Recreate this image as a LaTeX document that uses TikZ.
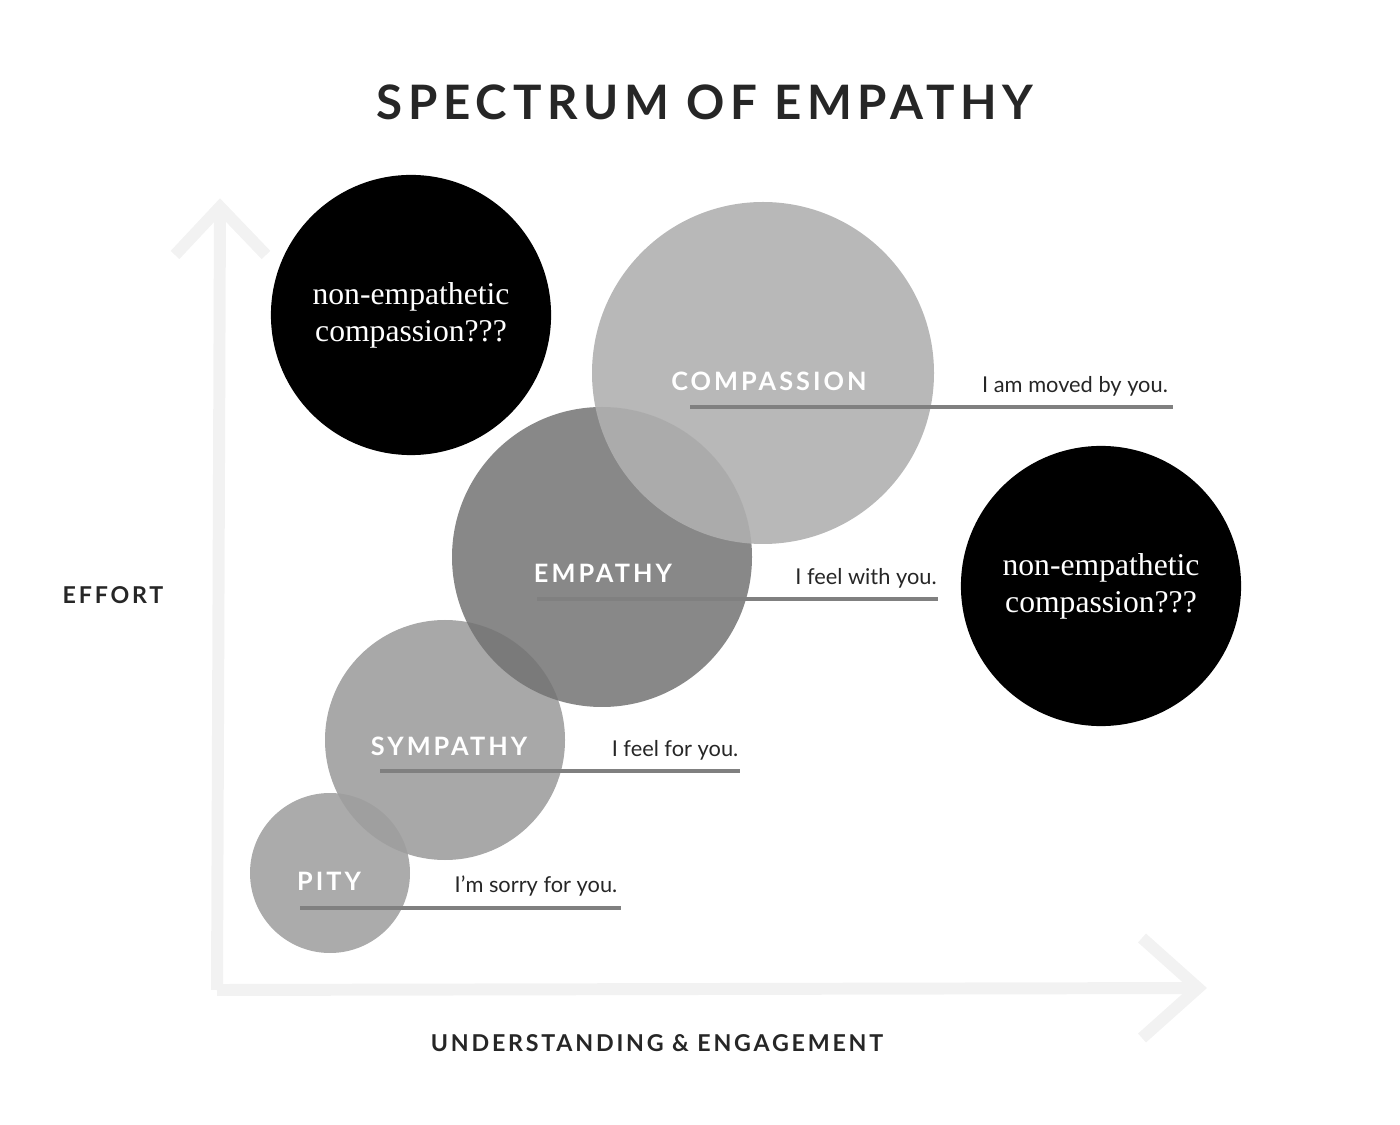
\documentclass[tikz,border=0pt]{standalone}
\usepackage{fontspec}
\setsansfont{Lato}
\setmainfont{Liberation Serif}
\newfontfamily\capsfont{Lato}[LetterSpace=12]
\usetikzlibrary{positioning}
\definecolor{axisgray}{HTML}{F2F2F2}
\definecolor{rulegray}{HTML}{808080}
\tikzset{
  bubble/.style={circle,inner sep=0pt},
  caps/.style={font=\capsfont\bfseries\fontsize{7.2}{8}\selectfont,text=white},
  phrase/.style={font=\sffamily\fontsize{6.2}{7}\selectfont,text=black!85},
  rule/.style={draw=rulegray,line width=1.2pt},
  axis/.style={draw=axisgray,line width=3.4pt},
  blackball/.style={fill=black,circle,minimum size=2.8cm,align=center,text=white,
    font=\rmfamily\fontsize{9}{10.5}\selectfont}
}
\begin{document}
\begin{tikzpicture}[x=0.01cm,y=-0.01cm]
  \useasboundingbox (0,0) rectangle (1400,1125);

  % axes
  \coordinate (origin) at (217,990);
  \coordinate (ytip) at (220,207);
  \coordinate (xtip) at (1198,988);
  \draw[axis] (origin) -- (ytip);
  \draw[axis] (175,255) -- (ytip) -- (266,255);
  \draw[axis] (origin) -- (xtip);
  \draw[axis] (1142,938) -- (xtip) -- (1142,1038);

  \node[font=\capsfont\bfseries\fontsize{13.5}{15}\selectfont,text=black!85] (title) at (705,102) {SPECTRUM OF EMPATHY};
  \node[font=\capsfont\bfseries\fontsize{6.6}{8}\selectfont,text=black!85] (effort) at (113,595) {EFFORT};
  \node[font=\capsfont\bfseries\fontsize{6.6}{8}\selectfont,text=black!85] (understanding) at (657,1043) {UNDERSTANDING \& ENGAGEMENT};

  % circles
  \fill[black!33] (330,873) circle (80);
  \fill[black!38,fill opacity=0.9] (445,740) circle (120);
  \fill[black!55,fill opacity=0.85] (602,557) circle (150);
  \fill[black!31,fill opacity=0.9] (763,373) circle (171);

  \node[blackball] (noncompA) at (411,315) {non-empathetic\\compassion???};
  \node[blackball] (noncompB) at (1101,586) {non-empathetic\\compassion???};

  % labels and rules
  \node[caps] (compassion) at (769,381) {COMPASSION};
  \coordinate (compL) at (690,407); \coordinate (compR) at (1173,407);
  \draw[rule] (compL) -- (compR);
  \node[phrase] (moved) at (1075,386) {I am moved by you.};

  \node[caps] (empathy) at (603,573) {EMPATHY};
  \coordinate (empL) at (537,599); \coordinate (empR) at (938,599);
  \draw[rule] (empL) -- (empR);
  \node[phrase] (feelwith) at (866,578) {I feel with you.};

  \node[caps] (sympathy) at (449,746) {SYMPATHY};
  \coordinate (symL) at (380,771); \coordinate (symR) at (740,771);
  \draw[rule] (symL) -- (symR);
  \node[phrase] (feelfor) at (675,750) {I feel for you.};

  \node[caps] (pity) at (329,881) {PITY};
  \coordinate (pityL) at (300,908); \coordinate (pityR) at (621,908);
  \draw[rule] (pityL) -- (pityR);
  \node[phrase] (sorry) at (536,886) {I’m sorry for you.};
\end{tikzpicture}
\end{document}
